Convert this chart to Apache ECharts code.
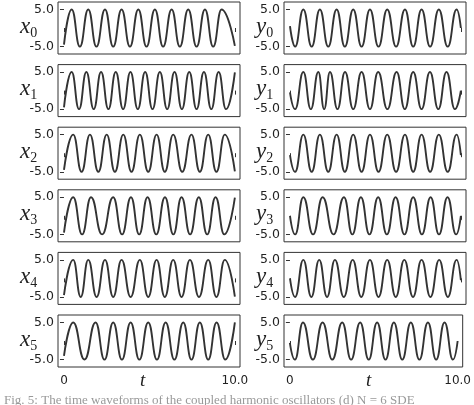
<!DOCTYPE html>
<html><head><meta charset="utf-8">
<script src="https://cdn.jsdelivr.net/npm/echarts@6/dist/echarts.min.js"></script>
<style>html,body{margin:0;padding:0;background:#fff}#c{width:474px;height:405px}</style>
</head><body><div id="c"></div>
<script>
const names = ['x0','x1','x2','x3','x4','x5','y0','y1','y2','y3','y4','y5'];
const startVals = [-4.5,-4.5,-4.5,-4.5,-4.5,-4,0.5,-0.5,-0.5,0,0,-0.5];
const endVals = [-4.8,4.9,-4.9,4.9,-4.9,5,0,0,-0.5,0,-0.5,0];
const peaks = [
 [.45,1.42,2.4,3.37,4.35,5.32,6.3,7.27,8.25,9.22],
 [.45,1.31,2.17,3.03,3.89,4.75,5.61,6.47,7.33,8.19,9.05],
 [.54,1.52,2.5,3.47,4.44,5.42,6.39,7.46,8.44,9.41],
 [.54,1.58,2.88,3.92,4.89,5.91,6.88,7.89,8.87],
 [.54,1.42,2.4,3.37,4.44,5.42,6.39,7.37,8.44,9.41],
 [.54,1.85,2.88,3.9,4.93,5.95,6.98,7.95,8.93],
 [.78,1.75,2.73,3.7,4.68,5.69,6.73,7.7,8.71,9.75],
 [.78,1.66,2.34,3.22,4.19,5.16,6.24,7.21,8.19,9.16],
 [.78,1.75,2.73,3.7,4.68,5.69,6.73,7.7,8.71,9.75],
 [.78,1.91,3.16,4.15,5.16,6.18,7.21,8.23,9.22],
 [.78,1.71,2.63,3.67,4.68,5.69,6.69,7.7,8.73,9.75],
 [.78,1.95,3.12,4.19,5.2,6.2,7.21,8.23,9.22]
];
const troughs = [
 [.93,1.9,2.88,3.86,4.83,5.8,6.78,7.76,8.73],
 [.88,1.74,2.6,3.46,4.32,5.18,6.04,6.9,7.76,8.62,9.48],
 [1.03,2.01,2.98,3.95,4.93,5.9,6.92,7.95,8.92],
 [1.06,2.23,3.4,4.4,5.4,6.4,7.38,8.38,9.38],
 [.98,1.91,2.88,3.9,4.93,5.9,6.88,7.9,8.92],
 [1.2,2.37,3.39,4.41,5.44,6.46,7.46,8.44,9.44],
 [.3,1.27,2.24,3.21,4.19,5.18,6.21,7.21,8.2,9.23],
 [.3,1.22,2.0,2.78,3.7,4.68,5.7,6.72,7.7,8.68,9.65],
 [.3,1.27,2.24,3.21,4.19,5.18,6.21,7.21,8.2,9.23],
 [.3,1.35,2.55,3.65,4.65,5.67,6.7,7.72,8.72,9.72],
 [.3,1.25,2.17,3.15,4.17,5.18,6.19,7.2,8.22,9.24],
 [.3,1.37,2.53,3.65,4.7,5.7,6.7,7.72,8.72,9.72]
];
const amp = 5;
const yTicks = [-5, 5];
const xTicks = [0, 10];

const grids=[],xAxes=[],yAxes=[],series=[],graphics=[];
names.forEach((n,i)=>{
  const col = i<6?0:1, row=i%6;
  const top = 2+row*62.6, left = col?284:58;
  grids.push({left:left,top:top,width:182,height:52,show:true,borderColor:'#333',borderWidth:1,backgroundColor:'#fff'});
  xAxes.push({type:'value',gridIndex:i,min:-0.35,max:10.3,splitLine:{show:false},axisLine:{show:false},
    axisTick:{show:true,length:4,lineStyle:{color:'#333'},customValues:xTicks},
    axisLabel:{show:row===5,customValues:xTicks,formatter:v=>v===0?'0':v.toFixed(1),color:'#222',fontSize:12,fontFamily:'DejaVu Sans',margin:8}});
  yAxes.push({type:'value',gridIndex:i,min:-7,max:7,splitLine:{show:false},axisLine:{show:false},
    axisTick:{show:true,length:4,lineStyle:{color:'#333'},customValues:yTicks},
    axisLabel:{customValues:yTicks,formatter:v=>v.toFixed(1),color:'#222',fontSize:12.5,fontFamily:'DejaVu Sans',margin:4}});
  let pts=[[0,startVals[i]]];
  peaks[i].forEach(t=>pts.push([t,amp]));
  troughs[i].forEach(t=>pts.push([t,-amp]));
  pts.push([10,endVals[i]]);
  pts.sort((a,b)=>a[0]-b[0]);
  series.push({type:'line',xAxisIndex:i,yAxisIndex:i,data:pts,smooth:0.5,smoothMonotone:'x',showSymbol:false,
    lineStyle:{color:'#333',width:1.9},silent:true});
  graphics.push({type:'text',left:col?256:20,top:top+13,style:{
    text:'{a|'+n[0]+'}{b|'+n[1]+'}',rich:{a:{fontFamily:'Liberation Serif',fontStyle:'italic',fontSize:23,fill:'#222'},
      b:{fontFamily:'Liberation Serif',fontSize:14,fill:'#222',padding:[13,0,0,0]}}}});
});
graphics.push({type:'text',left:140,top:371,style:{text:'t',fontFamily:'Liberation Serif',fontStyle:'italic',fontSize:19,fill:'#222'}});
graphics.push({type:'text',left:366,top:371,style:{text:'t',fontFamily:'Liberation Serif',fontStyle:'italic',fontSize:19,fill:'#222'}});
graphics.push({type:'text',left:4,top:394,style:{text:'Fig. 5: The time waveforms of the coupled harmonic oscillators (d) N = 6 SDE',fontFamily:'Liberation Serif',fontSize:13,fill:'#999'}});
const chart=echarts.init(document.getElementById('c'),null,{renderer:'canvas'});
chart.setOption({animation:false,grid:grids,xAxis:xAxes,yAxis:yAxes,series:series,graphic:graphics});
</script></body></html>
